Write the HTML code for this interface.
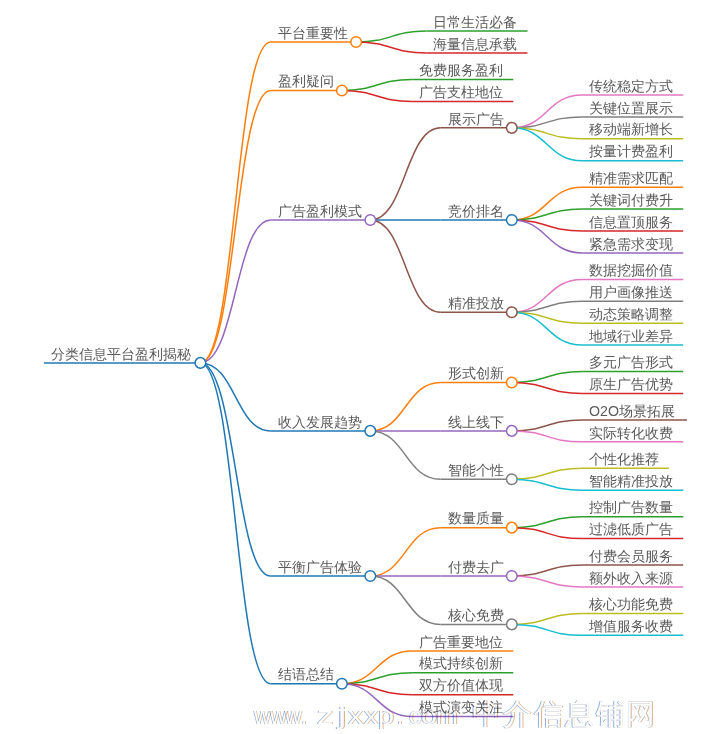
<!DOCTYPE html>
<html><head><meta charset="utf-8"><style>
html,body{margin:0;padding:0;background:#fff;width:728px;height:734px;overflow:hidden;position:relative}
svg{position:absolute;left:0;top:0}
.t{position:absolute;white-space:nowrap;font-family:"Liberation Sans",sans-serif;font-size:14.2px;line-height:16px;color:#5a5a5a;will-change:transform}
.wm{position:absolute;font-family:"Liberation Sans",sans-serif;line-height:34px;color:#fff;text-shadow:-0.8px 0 rgba(80,130,210,0.65),0.8px 0 rgba(200,140,80,0.65);mix-blend-mode:multiply;white-space:nowrap;transform-origin:0 0}
</style></head><body>
<svg width="728" height="734" viewBox="0 0 728 734">
<g fill="none" stroke-width="1.5">
<path d="M200.40,362.90C235.55,362.90 235.55,42.07 270.70,42.07" stroke="#ff7f0e"/>
<path d="M356.10,42.07C391.25,42.07 391.25,31.12 426.40,31.12" stroke="#2ca02c"/>
<path d="M356.10,42.07C391.25,42.07 391.25,53.02 426.40,53.02" stroke="#d62728"/>
<path d="M200.40,362.90C235.55,362.90 235.55,90.45 270.70,90.45" stroke="#ff7f0e"/>
<path d="M341.90,90.45C377.05,90.45 377.05,79.50 412.20,79.50" stroke="#2ca02c"/>
<path d="M341.90,90.45C377.05,90.45 377.05,101.40 412.20,101.40" stroke="#d62728"/>
<path d="M200.40,362.90C235.55,362.90 235.55,220.06 270.70,220.06" stroke="#9467bd"/>
<path d="M370.30,220.06C405.45,220.06 405.45,127.87 440.60,127.87" stroke="#8c564b"/>
<path d="M511.80,127.87C546.95,127.87 546.95,95.02 582.10,95.02" stroke="#e377c2"/>
<path d="M511.80,127.87C546.95,127.87 546.95,116.92 582.10,116.92" stroke="#7f7f7f"/>
<path d="M511.80,127.87C546.95,127.87 546.95,138.82 582.10,138.82" stroke="#bcbd22"/>
<path d="M511.80,127.87C546.95,127.87 546.95,160.73 582.10,160.73" stroke="#17becf"/>
<path d="M370.30,220.06C405.45,220.06 405.45,220.06 440.60,220.06" stroke="#1f77b4"/>
<path d="M511.80,220.06C546.95,220.06 546.95,187.20 582.10,187.20" stroke="#ff7f0e"/>
<path d="M511.80,220.06C546.95,220.06 546.95,209.10 582.10,209.10" stroke="#2ca02c"/>
<path d="M511.80,220.06C546.95,220.06 546.95,231.01 582.10,231.01" stroke="#d62728"/>
<path d="M511.80,220.06C546.95,220.06 546.95,252.91 582.10,252.91" stroke="#9467bd"/>
<path d="M370.30,220.06C405.45,220.06 405.45,312.24 440.60,312.24" stroke="#8c564b"/>
<path d="M511.80,312.24C546.95,312.24 546.95,279.39 582.10,279.39" stroke="#e377c2"/>
<path d="M511.80,312.24C546.95,312.24 546.95,301.29 582.10,301.29" stroke="#7f7f7f"/>
<path d="M511.80,312.24C546.95,312.24 546.95,323.19 582.10,323.19" stroke="#bcbd22"/>
<path d="M511.80,312.24C546.95,312.24 546.95,345.10 582.10,345.10" stroke="#17becf"/>
<path d="M200.40,362.90C235.55,362.90 235.55,430.90 270.70,430.90" stroke="#1f77b4"/>
<path d="M370.30,430.90C405.45,430.90 405.45,382.52 440.60,382.52" stroke="#ff7f0e"/>
<path d="M511.80,382.52C546.95,382.52 546.95,371.57 582.10,371.57" stroke="#2ca02c"/>
<path d="M511.80,382.52C546.95,382.52 546.95,393.47 582.10,393.47" stroke="#d62728"/>
<path d="M370.30,430.90C405.45,430.90 405.45,430.90 440.60,430.90" stroke="#9467bd"/>
<path d="M511.80,430.90C546.95,430.90 546.95,419.95 582.10,419.95" stroke="#8c564b"/>
<path d="M511.80,430.90C546.95,430.90 546.95,441.85 582.10,441.85" stroke="#e377c2"/>
<path d="M370.30,430.90C405.45,430.90 405.45,479.27 440.60,479.27" stroke="#7f7f7f"/>
<path d="M511.80,479.27C546.95,479.27 546.95,468.32 582.10,468.32" stroke="#bcbd22"/>
<path d="M511.80,479.27C546.95,479.27 546.95,490.23 582.10,490.23" stroke="#17becf"/>
<path d="M200.40,362.90C235.55,362.90 235.55,576.03 270.70,576.03" stroke="#1f77b4"/>
<path d="M370.30,576.03C405.45,576.03 405.45,527.65 440.60,527.65" stroke="#ff7f0e"/>
<path d="M511.80,527.65C546.95,527.65 546.95,516.70 582.10,516.70" stroke="#2ca02c"/>
<path d="M511.80,527.65C546.95,527.65 546.95,538.60 582.10,538.60" stroke="#d62728"/>
<path d="M370.30,576.03C405.45,576.03 405.45,576.03 440.60,576.03" stroke="#9467bd"/>
<path d="M511.80,576.03C546.95,576.03 546.95,565.07 582.10,565.07" stroke="#8c564b"/>
<path d="M511.80,576.03C546.95,576.03 546.95,586.98 582.10,586.98" stroke="#e377c2"/>
<path d="M370.30,576.03C405.45,576.03 405.45,624.40 440.60,624.40" stroke="#7f7f7f"/>
<path d="M511.80,624.40C546.95,624.40 546.95,613.45 582.10,613.45" stroke="#bcbd22"/>
<path d="M511.80,624.40C546.95,624.40 546.95,635.35 582.10,635.35" stroke="#17becf"/>
<path d="M200.40,362.90C235.55,362.90 235.55,683.73 270.70,683.73" stroke="#1f77b4"/>
<path d="M341.90,683.73C377.05,683.73 377.05,650.88 412.20,650.88" stroke="#ff7f0e"/>
<path d="M341.90,683.73C377.05,683.73 377.05,672.78 412.20,672.78" stroke="#2ca02c"/>
<path d="M341.90,683.73C377.05,683.73 377.05,694.68 412.20,694.68" stroke="#d62728"/>
<path d="M341.90,683.73C377.05,683.73 377.05,716.59 412.20,716.59" stroke="#9467bd"/>
<line x1="44.00" y1="362.90" x2="200.40" y2="362.90" stroke="#1f77b4"/>
<line x1="270.70" y1="42.07" x2="356.10" y2="42.07" stroke="#ff7f0e"/>
<line x1="426.40" y1="31.12" x2="527.50" y2="31.12" stroke="#2ca02c"/>
<line x1="426.40" y1="53.02" x2="527.50" y2="53.02" stroke="#d62728"/>
<line x1="270.70" y1="90.45" x2="341.90" y2="90.45" stroke="#ff7f0e"/>
<line x1="412.20" y1="79.50" x2="513.30" y2="79.50" stroke="#2ca02c"/>
<line x1="412.20" y1="101.40" x2="513.30" y2="101.40" stroke="#d62728"/>
<line x1="270.70" y1="220.06" x2="370.30" y2="220.06" stroke="#9467bd"/>
<line x1="440.60" y1="127.87" x2="511.80" y2="127.87" stroke="#8c564b"/>
<line x1="582.10" y1="95.02" x2="683.20" y2="95.02" stroke="#e377c2"/>
<line x1="582.10" y1="116.92" x2="683.20" y2="116.92" stroke="#7f7f7f"/>
<line x1="582.10" y1="138.82" x2="683.20" y2="138.82" stroke="#bcbd22"/>
<line x1="582.10" y1="160.73" x2="683.20" y2="160.73" stroke="#17becf"/>
<line x1="440.60" y1="220.06" x2="511.80" y2="220.06" stroke="#1f77b4"/>
<line x1="582.10" y1="187.20" x2="683.20" y2="187.20" stroke="#ff7f0e"/>
<line x1="582.10" y1="209.10" x2="683.20" y2="209.10" stroke="#2ca02c"/>
<line x1="582.10" y1="231.01" x2="683.20" y2="231.01" stroke="#d62728"/>
<line x1="582.10" y1="252.91" x2="683.20" y2="252.91" stroke="#9467bd"/>
<line x1="440.60" y1="312.24" x2="511.80" y2="312.24" stroke="#8c564b"/>
<line x1="582.10" y1="279.39" x2="683.20" y2="279.39" stroke="#e377c2"/>
<line x1="582.10" y1="301.29" x2="683.20" y2="301.29" stroke="#7f7f7f"/>
<line x1="582.10" y1="323.19" x2="683.20" y2="323.19" stroke="#bcbd22"/>
<line x1="582.10" y1="345.10" x2="683.20" y2="345.10" stroke="#17becf"/>
<line x1="270.70" y1="430.90" x2="370.30" y2="430.90" stroke="#1f77b4"/>
<line x1="440.60" y1="382.52" x2="511.80" y2="382.52" stroke="#ff7f0e"/>
<line x1="582.10" y1="371.57" x2="683.20" y2="371.57" stroke="#2ca02c"/>
<line x1="582.10" y1="393.47" x2="683.20" y2="393.47" stroke="#d62728"/>
<line x1="440.60" y1="430.90" x2="511.80" y2="430.90" stroke="#9467bd"/>
<line x1="582.10" y1="419.95" x2="686.90" y2="419.95" stroke="#8c564b"/>
<line x1="582.10" y1="441.85" x2="683.20" y2="441.85" stroke="#e377c2"/>
<line x1="440.60" y1="479.27" x2="511.80" y2="479.27" stroke="#7f7f7f"/>
<line x1="582.10" y1="468.32" x2="669.00" y2="468.32" stroke="#bcbd22"/>
<line x1="582.10" y1="490.23" x2="683.20" y2="490.23" stroke="#17becf"/>
<line x1="270.70" y1="576.03" x2="370.30" y2="576.03" stroke="#1f77b4"/>
<line x1="440.60" y1="527.65" x2="511.80" y2="527.65" stroke="#ff7f0e"/>
<line x1="582.10" y1="516.70" x2="683.20" y2="516.70" stroke="#2ca02c"/>
<line x1="582.10" y1="538.60" x2="683.20" y2="538.60" stroke="#d62728"/>
<line x1="440.60" y1="576.03" x2="511.80" y2="576.03" stroke="#9467bd"/>
<line x1="582.10" y1="565.07" x2="683.20" y2="565.07" stroke="#8c564b"/>
<line x1="582.10" y1="586.98" x2="683.20" y2="586.98" stroke="#e377c2"/>
<line x1="440.60" y1="624.40" x2="511.80" y2="624.40" stroke="#7f7f7f"/>
<line x1="582.10" y1="613.45" x2="683.20" y2="613.45" stroke="#bcbd22"/>
<line x1="582.10" y1="635.35" x2="683.20" y2="635.35" stroke="#17becf"/>
<line x1="270.70" y1="683.73" x2="341.90" y2="683.73" stroke="#1f77b4"/>
<line x1="412.20" y1="650.88" x2="513.30" y2="650.88" stroke="#ff7f0e"/>
<line x1="412.20" y1="672.78" x2="513.30" y2="672.78" stroke="#2ca02c"/>
<line x1="412.20" y1="694.68" x2="513.30" y2="694.68" stroke="#d62728"/>
<line x1="412.20" y1="716.59" x2="513.30" y2="716.59" stroke="#9467bd"/>
</g>
<g fill="#fff" stroke-width="1.5">
<circle cx="200.40" cy="362.90" r="5.3" stroke="#1f77b4"/>
<circle cx="356.10" cy="42.07" r="5.3" stroke="#ff7f0e"/>
<circle cx="341.90" cy="90.45" r="5.3" stroke="#ff7f0e"/>
<circle cx="370.30" cy="220.06" r="5.3" stroke="#9467bd"/>
<circle cx="511.80" cy="127.87" r="5.3" stroke="#8c564b"/>
<circle cx="511.80" cy="220.06" r="5.3" stroke="#1f77b4"/>
<circle cx="511.80" cy="312.24" r="5.3" stroke="#8c564b"/>
<circle cx="370.30" cy="430.90" r="5.3" stroke="#1f77b4"/>
<circle cx="511.80" cy="382.52" r="5.3" stroke="#ff7f0e"/>
<circle cx="511.80" cy="430.90" r="5.3" stroke="#9467bd"/>
<circle cx="511.80" cy="479.27" r="5.3" stroke="#7f7f7f"/>
<circle cx="370.30" cy="576.03" r="5.3" stroke="#1f77b4"/>
<circle cx="511.80" cy="527.65" r="5.3" stroke="#ff7f0e"/>
<circle cx="511.80" cy="576.03" r="5.3" stroke="#9467bd"/>
<circle cx="511.80" cy="624.40" r="5.3" stroke="#7f7f7f"/>
<circle cx="341.90" cy="683.73" r="5.3" stroke="#1f77b4"/>
</g>
</svg>
<div class="t" style="left:51.00px;top:345.55px">分类信息平台盈利揭秘</div>
<div class="t" style="left:277.70px;top:24.72px">平台重要性</div>
<div class="t" style="left:433.40px;top:13.77px">日常生活必备</div>
<div class="t" style="left:433.40px;top:35.67px">海量信息承载</div>
<div class="t" style="left:277.70px;top:73.10px">盈利疑问</div>
<div class="t" style="left:419.20px;top:62.15px">免费服务盈利</div>
<div class="t" style="left:419.20px;top:84.05px">广告支柱地位</div>
<div class="t" style="left:277.70px;top:202.71px">广告盈利模式</div>
<div class="t" style="left:447.60px;top:110.52px">展示广告</div>
<div class="t" style="left:589.10px;top:77.67px">传统稳定方式</div>
<div class="t" style="left:589.10px;top:99.57px">关键位置展示</div>
<div class="t" style="left:589.10px;top:121.47px">移动端新增长</div>
<div class="t" style="left:589.10px;top:143.38px">按量计费盈利</div>
<div class="t" style="left:447.60px;top:202.71px">竞价排名</div>
<div class="t" style="left:589.10px;top:169.85px">精准需求匹配</div>
<div class="t" style="left:589.10px;top:191.75px">关键词付费升</div>
<div class="t" style="left:589.10px;top:213.66px">信息置顶服务</div>
<div class="t" style="left:589.10px;top:235.56px">紧急需求变现</div>
<div class="t" style="left:447.60px;top:294.89px">精准投放</div>
<div class="t" style="left:589.10px;top:262.04px">数据挖掘价值</div>
<div class="t" style="left:589.10px;top:283.94px">用户画像推送</div>
<div class="t" style="left:589.10px;top:305.84px">动态策略调整</div>
<div class="t" style="left:589.10px;top:327.75px">地域行业差异</div>
<div class="t" style="left:277.70px;top:413.55px">收入发展趋势</div>
<div class="t" style="left:447.60px;top:365.17px">形式创新</div>
<div class="t" style="left:589.10px;top:354.22px">多元广告形式</div>
<div class="t" style="left:589.10px;top:376.12px">原生广告优势</div>
<div class="t" style="left:447.60px;top:413.55px">线上线下</div>
<div class="t" style="left:589.10px;top:402.60px">O2O场景拓展</div>
<div class="t" style="left:589.10px;top:424.50px">实际转化收费</div>
<div class="t" style="left:447.60px;top:461.92px">智能个性</div>
<div class="t" style="left:589.10px;top:450.97px">个性化推荐</div>
<div class="t" style="left:589.10px;top:472.88px">智能精准投放</div>
<div class="t" style="left:277.70px;top:558.68px">平衡广告体验</div>
<div class="t" style="left:447.60px;top:510.30px">数量质量</div>
<div class="t" style="left:589.10px;top:499.35px">控制广告数量</div>
<div class="t" style="left:589.10px;top:521.25px">过滤低质广告</div>
<div class="t" style="left:447.60px;top:558.68px">付费去广</div>
<div class="t" style="left:589.10px;top:547.72px">付费会员服务</div>
<div class="t" style="left:589.10px;top:569.63px">额外收入来源</div>
<div class="t" style="left:447.60px;top:607.05px">核心免费</div>
<div class="t" style="left:589.10px;top:596.10px">核心功能免费</div>
<div class="t" style="left:589.10px;top:618.00px">增值服务收费</div>
<div class="t" style="left:277.70px;top:666.38px">结语总结</div>
<div class="t" style="left:419.20px;top:633.53px">广告重要地位</div>
<div class="t" style="left:419.20px;top:655.43px">模式持续创新</div>
<div class="t" style="left:419.20px;top:677.33px">双方价值体现</div>
<div class="t" style="left:419.20px;top:699.24px">模式演变关注</div>
<div class="wm" style="left:254.3px;top:699px;font-size:24px;transform:scaleX(0.969)">w</div>
<div class="wm" style="left:269.8px;top:699px;font-size:24px;transform:scaleX(0.969)">w</div>
<div class="wm" style="left:285.3px;top:699px;font-size:24px;transform:scaleX(0.962)">w</div>
<div class="wm" style="left:300.5px;top:699px;font-size:24px;transform:scaleX(1.000)">.</div>
<div class="wm" style="left:316.6px;top:699px;font-size:24px;transform:scaleX(1.367)">z</div>
<div class="wm" style="left:337.8px;top:699px;font-size:24px;transform:scaleX(1.550)">j</div>
<div class="wm" style="left:348.0px;top:699px;font-size:24px;transform:scaleX(1.255)">x</div>
<div class="wm" style="left:364.0px;top:699px;font-size:24px;transform:scaleX(1.182)">x</div>
<div class="wm" style="left:377.6px;top:699px;font-size:24px;transform:scaleX(1.209)">p</div>
<div class="wm" style="left:396.8px;top:699px;font-size:24px;transform:scaleX(1.000)">.</div>
<div class="wm" style="left:409.4px;top:699px;font-size:24px;transform:scaleX(1.030)">c</div>
<div class="wm" style="left:420.5px;top:699px;font-size:24px;transform:scaleX(1.209)">o</div>
<div class="wm" style="left:436.0px;top:699px;font-size:24px;transform:scaleX(1.094)">m</div>
<div class="wm" style="left:472px;top:696.5px;font-size:29px;letter-spacing:1.9px">中介信息铺网</div>
</body></html>
